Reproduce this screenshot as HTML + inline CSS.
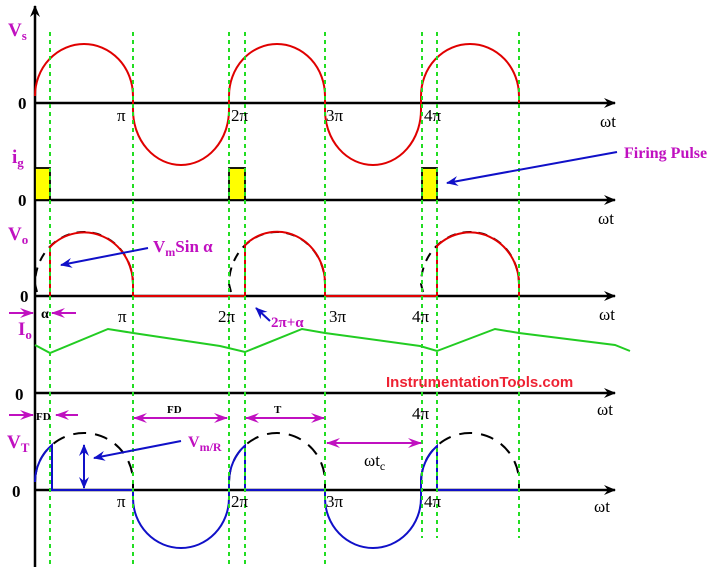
<!DOCTYPE html>
<html><head><style>
html,body{margin:0;padding:0;background:#fff;}
svg{display:block;}
text{font-family:"Liberation Serif",serif;}
</style></head><body>
<svg width="720" height="567" viewBox="0 0 720 567" xmlns="http://www.w3.org/2000/svg">
<defs>
<marker id="ah" markerWidth="12" markerHeight="10" refX="11" refY="5" orient="auto" markerUnits="userSpaceOnUse"><path d="M0,0 L12,5 L0,10 L4,5 Z" fill="#000"/></marker>
<marker id="mb" markerWidth="12" markerHeight="10" refX="1" refY="5" orient="auto" markerUnits="userSpaceOnUse"><path d="M12,0 L0,5 L12,10 L8,5 Z" fill="#1010c8"/></marker>
<marker id="me" markerWidth="12" markerHeight="10" refX="11" refY="5" orient="auto" markerUnits="userSpaceOnUse"><path d="M0,0 L12,5 L0,10 L4,5 Z" fill="#1010c8"/></marker>
<marker id="pe" markerWidth="14" markerHeight="10" refX="13" refY="5" orient="auto" markerUnits="userSpaceOnUse"><path d="M0,0 L14,5 L0,10 L5,5 Z" fill="#c010c0"/></marker>
<marker id="pb" markerWidth="14" markerHeight="10" refX="1" refY="5" orient="auto" markerUnits="userSpaceOnUse"><path d="M14,0 L0,5 L14,10 L9,5 Z" fill="#c010c0"/></marker>
</defs>

<line x1="35" y1="567" x2="35" y2="6" stroke="#000" stroke-width="2.5" marker-end="url(#ah)"/>

<g stroke="#000" stroke-width="2.5">
<line x1="35" y1="103" x2="615" y2="103" marker-end="url(#ah)"/>
<line x1="35" y1="200" x2="615" y2="200" marker-end="url(#ah)"/>
<line x1="35" y1="296" x2="615" y2="296" marker-end="url(#ah)"/>
<line x1="35" y1="393" x2="615" y2="393" marker-end="url(#ah)"/>
<line x1="35" y1="490" x2="615" y2="490" marker-end="url(#ah)"/>
</g>

<g fill="#ffff00" stroke="#000" stroke-width="1.8">
<rect x="35" y="168" width="15" height="32"/>
<rect x="229" y="168" width="16" height="32"/>
<rect x="422" y="168" width="15" height="32"/>
</g>

<!-- Vs -->
<path d="M35,96 A49 52 0 0 1 133,96 L133,110 A48 55 0 0 0 229,110 L229,96 A48 52 0 0 1 325,96 L325,110 A48 55 0 0 0 421,110 L421,96 A49 52 0 0 1 519,96 L519,103" fill="none" stroke="#e00000" stroke-width="2"/>

<!-- Vo dashed -->
<g fill="none" stroke="#000" stroke-width="2" stroke-dasharray="9,7">
<path d="M37,292 L35,284 A49 52 0 0 1 133,284 L133,296"/>
<path d="M231,292 L229,284 A48 52 0 0 1 325,284 L325,296"/>
<path d="M423,292 L421,284 A49 52 0 0 1 519,284 L519,296"/>
</g>
<g fill="none" stroke="#e00000" stroke-width="2">
<path d="M50,296 L50,247 A49 52 0 0 1 133,284 L133,296 L245,296 L245,245 A48 52 0 0 1 325,284 L325,296 L437,296 L437,246 A49 52 0 0 1 519,284 L519,296"/>
</g>

<!-- Io -->
<polyline points="35,345 50,353 108,329 133,333 220,346 245,352 302,329 325,333 420,346 437,351 495,329 519,333 615,345 630,351" fill="none" stroke="#22cc22" stroke-width="2"/>

<!-- VT dashed -->
<g fill="none" stroke="#000" stroke-width="2" stroke-dasharray="13,9">
<path d="M35,482 A49 49 0 0 1 133,482 L133,490"/>
<path d="M229,482 A48 49 0 0 1 325,482 L325,490"/>
<path d="M421,482 A49 49 0 0 1 519,482 L519,490"/>
</g>
<g fill="none" stroke="#1010c8" stroke-width="2">
<path d="M35,482 A49 49 0 0 1 52,445 L52,490 L133,490 L133,498 A48 50 0 0 0 229,498 L229,482 A48 49 0 0 1 245,445.5 L245,490 L325,490 L325,498 A48 50 0 0 0 421,498 L421,482 A49 49 0 0 1 437,446 L437,490 L519,490"/>
</g>

<g stroke="#22dd22" stroke-width="2" stroke-dasharray="4,4">
<line x1="50" y1="32" x2="50" y2="567"/>
<line x1="133" y1="32" x2="133" y2="567"/>
<line x1="229" y1="32" x2="229" y2="567"/>
<line x1="245" y1="32" x2="245" y2="567"/>
<line x1="325" y1="32" x2="325" y2="567"/>
<line x1="422" y1="32" x2="422" y2="538"/>
<line x1="437" y1="32" x2="437" y2="538"/>
<line x1="519" y1="32" x2="519" y2="538"/>
</g>

<g stroke="#1010c8" stroke-width="2" fill="none">
<line x1="148" y1="248" x2="61" y2="265" marker-end="url(#me)"/>
<line x1="617" y1="152" x2="447" y2="183" marker-end="url(#me)"/>
<line x1="270" y1="321" x2="256" y2="308" marker-end="url(#me)"/>
<line x1="181" y1="441" x2="94" y2="458" marker-end="url(#me)"/>
<line x1="84" y1="445" x2="84" y2="488" marker-start="url(#mb)" marker-end="url(#me)"/>
</g>

<g stroke="#c010c0" stroke-width="2" fill="none">
<line x1="9" y1="313" x2="33" y2="313" marker-end="url(#pe)"/>
<line x1="76" y1="313" x2="52" y2="313" marker-end="url(#pe)"/>
<line x1="9" y1="415" x2="33" y2="415" marker-end="url(#pe)"/>
<line x1="78" y1="415" x2="56" y2="415" marker-end="url(#pe)"/>
<line x1="134" y1="418" x2="227" y2="418" marker-start="url(#pb)" marker-end="url(#pe)"/>
<line x1="246" y1="418" x2="324" y2="418" marker-start="url(#pb)" marker-end="url(#pe)"/>
<line x1="327" y1="443" x2="421" y2="443" marker-start="url(#pb)" marker-end="url(#pe)"/>
</g>

<g font-weight="bold" fill="#c010c0" font-size="19">
<text x="8" y="36">V<tspan font-size="13" dy="4">s</tspan></text>
<text x="12" y="163">i<tspan font-size="13" dy="4">g</tspan></text>
<text x="8" y="240">V<tspan font-size="13" dy="4">o</tspan></text>
<text x="18" y="335">I<tspan font-size="13" dy="4">o</tspan></text>
<text x="7" y="448">V<tspan font-size="13" dy="4">T</tspan></text>
<text x="153" y="252" font-size="17">V<tspan font-size="12" dy="4">m</tspan><tspan dy="-4">Sin α</tspan></text>
<text x="624" y="158" font-size="16">Firing Pulse</text>
<text x="271" y="327" font-size="15">2π+α</text>
<text x="188" y="447" font-size="16">V<tspan font-size="12" dy="4">m</tspan><tspan font-size="12">/R</tspan></text>
</g>
<g font-weight="bold" font-size="17" fill="#000">
<text x="18" y="109">0</text>
<text x="18" y="206">0</text>
<text x="20" y="302">0</text>
<text x="15" y="400">0</text>
<text x="12" y="497">0</text>
</g>
<g font-size="17" fill="#000">
<text x="117" y="121">π</text>
<text x="231" y="121">2π</text>
<text x="326" y="121">3π</text>
<text x="424" y="121">4π</text>
<text x="118" y="322">π</text>
<text x="218" y="322">2π</text>
<text x="329" y="322">3π</text>
<text x="412" y="322">4π</text>
<text x="412" y="419">4π</text>
<text x="117" y="507">π</text>
<text x="231" y="507">2π</text>
<text x="326" y="507">3π</text>
<text x="424" y="507">4π</text>
<text x="600" y="127">ωt</text>
<text x="598" y="224">ωt</text>
<text x="599" y="320">ωt</text>
<text x="597" y="415">ωt</text>
<text x="594" y="512">ωt</text>
<text x="364" y="466">ωt<tspan font-size="12" dy="4">c</tspan></text>
<text x="41" y="318" font-size="14" font-weight="bold">α</text>
<text x="36" y="420" font-size="11" font-weight="bold">FD</text>
<text x="167" y="413" font-size="11" font-weight="bold">FD</text>
<text x="274" y="413" font-size="11" font-weight="bold">T</text>
</g>
<text x="386" y="387" style="font-family:'Liberation Sans',sans-serif" font-weight="bold" font-size="15" fill="#ee2233">InstrumentationTools.com</text>
</svg>
</body></html>
